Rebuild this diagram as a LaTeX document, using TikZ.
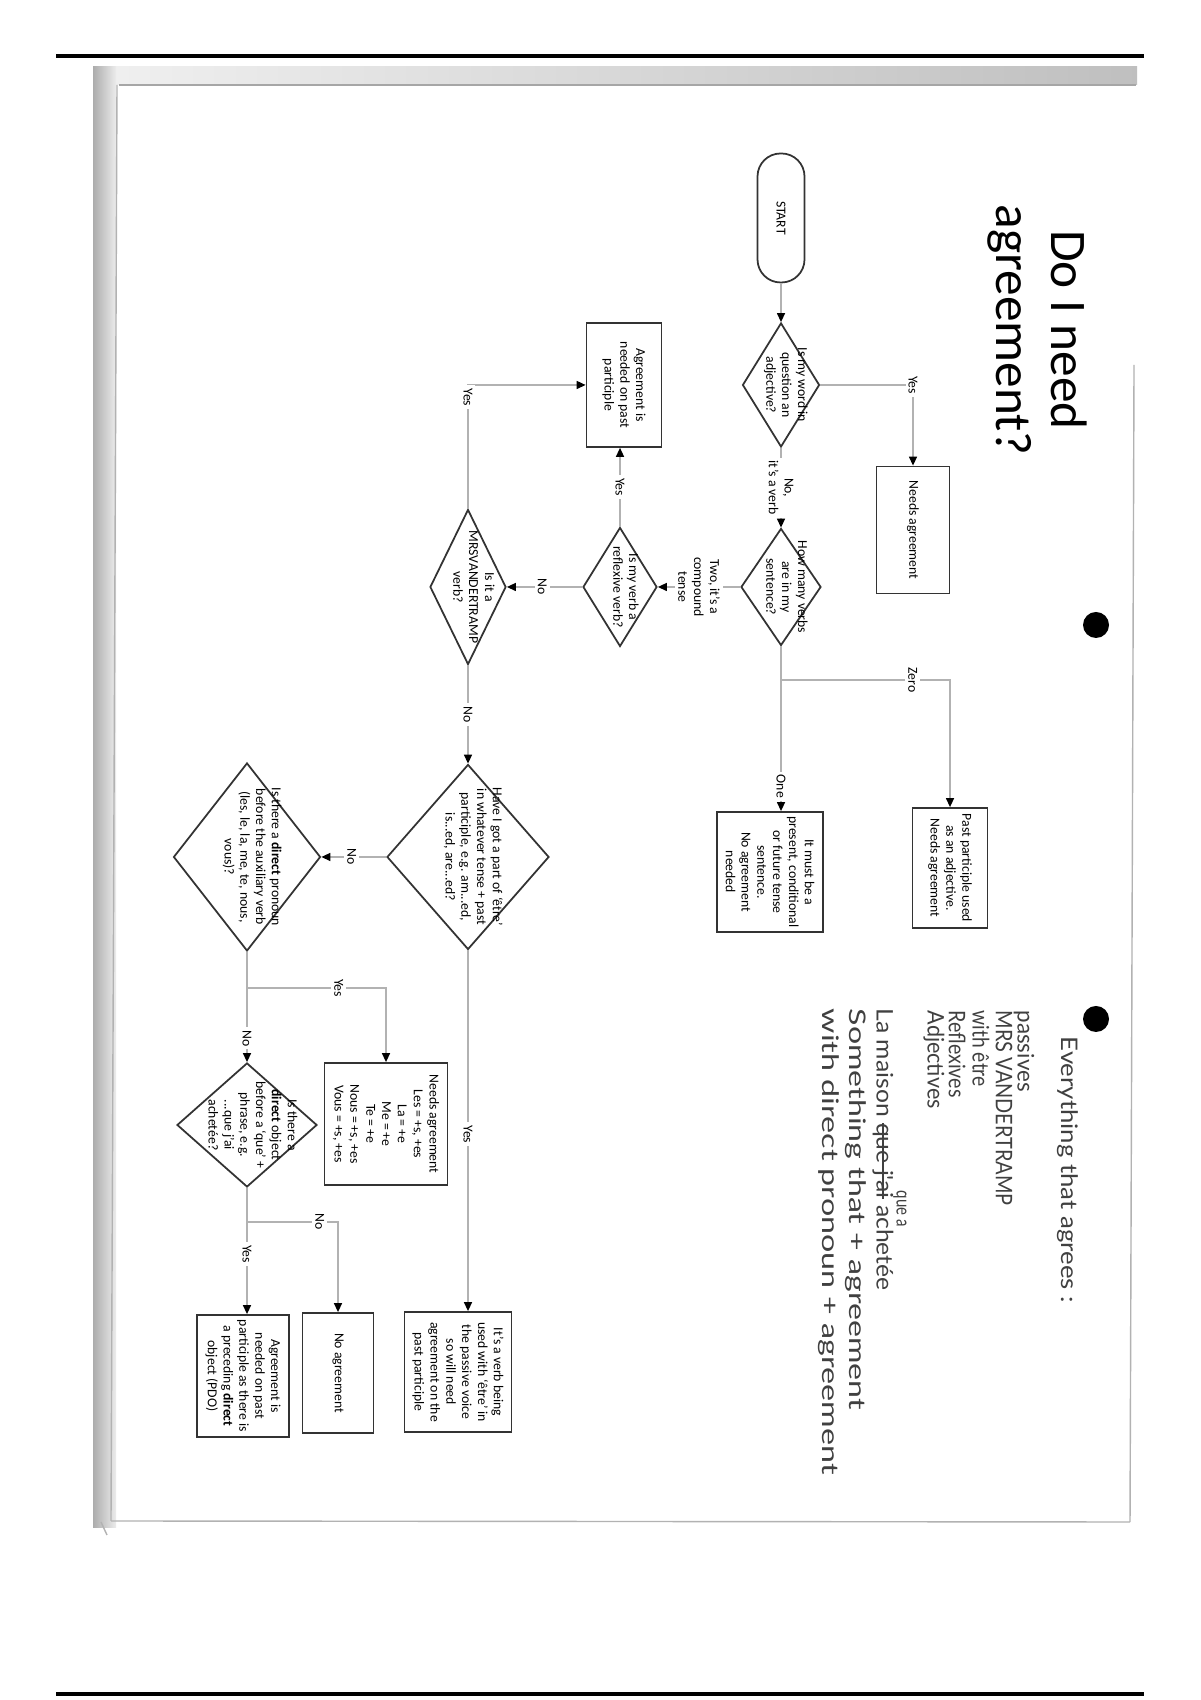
\documentclass[tikz,border=0pt]{standalone}
\usepackage{fontspec}
\usepackage{graphicx}
\setmainfont{Carlito}
\newfontfamily\handfont{Lato}
\usetikzlibrary{shapes.geometric,arrows.meta}

\newcommand\chartfont{\fontsize{3.9}{4.5}\selectfont}
% Text in Rauten: ohne Platzbedarf, damit die Rauten ihre Groesse behalten
\newcommand\dtxt[1]{\smash{\makebox[0pt]{\begin{tabular}{@{}c@{}}#1\end{tabular}}}}
\newsavebox\strkbox
\newcommand\strk[1]{\sbox\strkbox{#1}\rlap{\rule[0.45ex]{\wd\strkbox}{0.5pt}}\usebox\strkbox}

\begin{document}
\begin{tikzpicture}[x=0.1mm, y=0.1mm,
    box/.style={draw=black!80, line width=0.5pt, align=center, inner sep=0.2mm, font=\chartfont},
    dec/.style={diamond, draw=black!80, line width=0.5pt, inner sep=0pt, font=\chartfont},
    term/.style={draw=black!80, line width=0.5pt, rounded corners=2.3mm, inner sep=0pt, font=\chartfont},
    conn/.style={draw=gray!60, line width=0.4pt},
    arr/.style={conn, -{Triangle[length=0.9mm, width=0.8mm, color=black]}},
    lab/.style={fill=white, inner sep=0.3mm, align=center, font=\chartfont},
    hand/.style={anchor=west, inner sep=0pt, text=black!75, font=\handfont\fontsize{6.5}{7.5}\selectfont}]
  \useasboundingbox (0,0) rectangle (1200,1700);
  \fill[white] (0,0) rectangle (1200,1700);

  % Linien oben und unten
  \draw[line width=0.9pt] (56,1644) -- (1144,1644);
  \draw[line width=0.9pt] (56,6) -- (1144,6);

  % Foto: Rand des Blattes
  \shade[left color=gray!12, right color=gray!50] (103,1633) rectangle (1137,1615);
  \shade[left color=gray!65, right color=gray!15] (93,1633) rectangle (116,172);
  \draw[gray!70, line width=0.5pt] (119,1615) -- (1136,1615);
  \draw[gray!60, line width=0.4pt] (117,1615) -- (111,179);
  \draw[gray!60, line width=0.4pt] (111,179) -- (1130,178);
  \draw[gray!60, line width=0.4pt] (1134,1335) -- (1130,178);
  \draw[gray!60] (101,178) -- (107,165);

  % Punkte
  \fill (1096,1075) circle[radius=1.3mm];
  \fill (1096,681) circle[radius=1.3mm];

  \begin{scope}[shift={(0,1700)}, rotate=-90, transform shape]
    % Titel
    \node[font=\fontsize{14.6}{15.6}\selectfont, align=center] (title) at (330,1037) {Do I need\\agreement?};

    % Knoten
    \node[term, minimum width=12.9mm, minimum height=4.7mm] (start) at (218,781) {START};
    \node[dec, minimum width=12.4mm, minimum height=7.7mm] (qadj) at (385,781) {\dtxt{Is my word in\\question an\\adjective?}};
    \node[box, minimum width=12.7mm, minimum height=7.3mm] (need) at (530,913) {Needs agreement};
    \node[dec, minimum width=11.7mm, minimum height=8mm] (qverbs) at (587,781) {\dtxt{How many verbs\\are in my\\sentence?}};
    \node[box, minimum width=12mm, minimum height=10.6mm] (one) at (872,770) {It must be a\\present, conditional\\or future tense\\sentence.\\No agreement\\needed};
    \node[box, minimum width=12mm, minimum height=7.5mm] (zero) at (868,950) {Past participle used\\as an adjective.\\Needs agreement};
    \node[dec, minimum width=11.9mm, minimum height=7.4mm] (qrefl) at (587,620) {\dtxt{Is my verb a\\reflexive verb?}};
    \node[box, minimum width=12.4mm, minimum height=7.5mm] (agree) at (385,624) {Agreement is\\needed on past\\participle};
    \node[dec, minimum width=15.5mm, minimum height=7.6mm] (qmrs) at (587,468) {\dtxt{Is it a\\MRSVANDERTRAMP\\verb?}};
    \node[dec, minimum width=18.5mm, minimum height=16.2mm] (qetre) at (857,468) {\dtxt{Have I got a part of `être'\\in whatever tense + past\\participle, e.g. am...ed,\\is...ed, are...ed?}};
    \node[box, minimum width=12mm, minimum height=10.7mm] (passive) at (1372,458) {It's a verb being\\used with `être' in\\the passive voice\\so will need\\agreement on the\\past participle};
    \node[dec, minimum width=18.8mm, minimum height=14.7mm] (qpron) at (857,247) {\dtxt{Is there a \textbf{direct} pronoun\\before the auxiliary verb\\(les, le, la, me, te, nous,\\vous)?}};
    \node[box, minimum width=12.2mm, minimum height=12.3mm] (needles) at (1124,386) {Needs agreement\\Les = +s, +es\\La = +e\\Me = +e\\Te = +e\\Nous = +s, +es\\Vous = +s, +es};
    \node[dec, minimum width=12.4mm, minimum height=14mm] (qobj) at (1125,247) {\dtxt{Is there a\\\textbf{direct} object\\before a `que' +\\phrase, e.g.\\...que j'ai\\achetée?}};
    \node[box, minimum width=12mm, minimum height=7.1mm] (noagree) at (1373,338) {No agreement};
    \node[box, minimum width=12.2mm, minimum height=9.2mm] (pdo) at (1376,243) {Agreement is\\needed on past\\participle as there is\\a preceding \textbf{direct}\\object (PDO)};

    \coordinate (jzero) at (680,781);
    \coordinate (jpron) at (988,247);
    \coordinate (jobj) at (1222,247);

    % Verbindungen
    \draw[arr] (start.east) -- (qadj.west);
    \draw[arr] (qadj.north) |- node[lab, pos=0.5] {Yes} (need.west);
    \draw[arr] (qadj.east) -- node[lab] {No,\\it's a verb} (qverbs.west);
    \draw[arr] (qverbs.east) -- node[lab, pos=0.85] {One} (qverbs.east -| one.west);
    \draw[arr] (jzero) |- node[lab, pos=0.39] {Zero} (zero.west);
    \draw[arr] (qverbs.south) -- node[lab] {Two, it's a\\compound\\tense} (qrefl.north);
    \draw[arr] (qrefl.west) -- node[lab] {Yes} (qrefl.west -| agree.east);
    \draw[arr] (qrefl.south) -- node[lab, pos=0.53] {No} (qmrs.north);
    \draw[arr] (qmrs.west) -| node[lab, pos=0.45] {Yes} (agree.south);
    \draw[arr] (qmrs.east) -- node[lab] {No} (qetre.west);
    \draw[arr] (qetre.east) -- node[lab, pos=0.51] {Yes} (qetre.east -| passive.west);
    \draw[arr] (qetre.south) -- node[lab, pos=0.53] {No} (qpron.north);
    \draw[conn] (qpron.east) -- (jpron);
    \draw[arr] (jpron) |- node[lab, pos=0.33] {Yes} (needles.west);
    \draw[arr] (jpron) -- node[lab, pos=0.68] {No} (qobj.west);
    \draw[conn] (qobj.east) -- (jobj);
    \draw[arr] (jobj) |- node[lab, pos=0.4] {No} (noagree.west);
    \draw[arr] (jobj) -- node[lab, pos=0.35] {Yes} (jobj -| pdo.west);

    % Handschrift
    \node[hand] (h0) at (1036,1068) {\resizebox{26.6mm}{\height}{Everything that agrees :}};
    \node[hand] (h1) at (1010,1024) {\resizebox{8.1mm}{\height}{passives}};
    \node[hand] (h2) at (1010,1004) {\resizebox{19.5mm}{\height}{MRS VANDERTRAMP}};
    \node[hand] (h3) at (1010,981) {\resizebox{7.6mm}{\height}{with être}};
    \node[hand] (h4) at (1010,957) {\resizebox{8.7mm}{\height}{Reflexives}};
    \node[hand] (h5) at (1010,934) {\resizebox{9.8mm}{\height}{Adjectives}};
    \node[hand, font=\handfont\fontsize{5.5}{6.5}\selectfont] (h6) at (1190,900) {\resizebox{3.6mm}{\height}{que a}};
    \node[hand] (h7) at (1008,883) {\resizebox{28.2mm}{\height}{La maison \strk{que j'ai} achetée}};
    \node[hand] (h8) at (1008,856) {\resizebox{40.1mm}{\height}{Something that + agreement}};
    \node[hand] (h9) at (1008,829) {\resizebox{46.6mm}{\height}{with direct pronoun + agreement}};
  \end{scope}
\end{tikzpicture}
\end{document}
